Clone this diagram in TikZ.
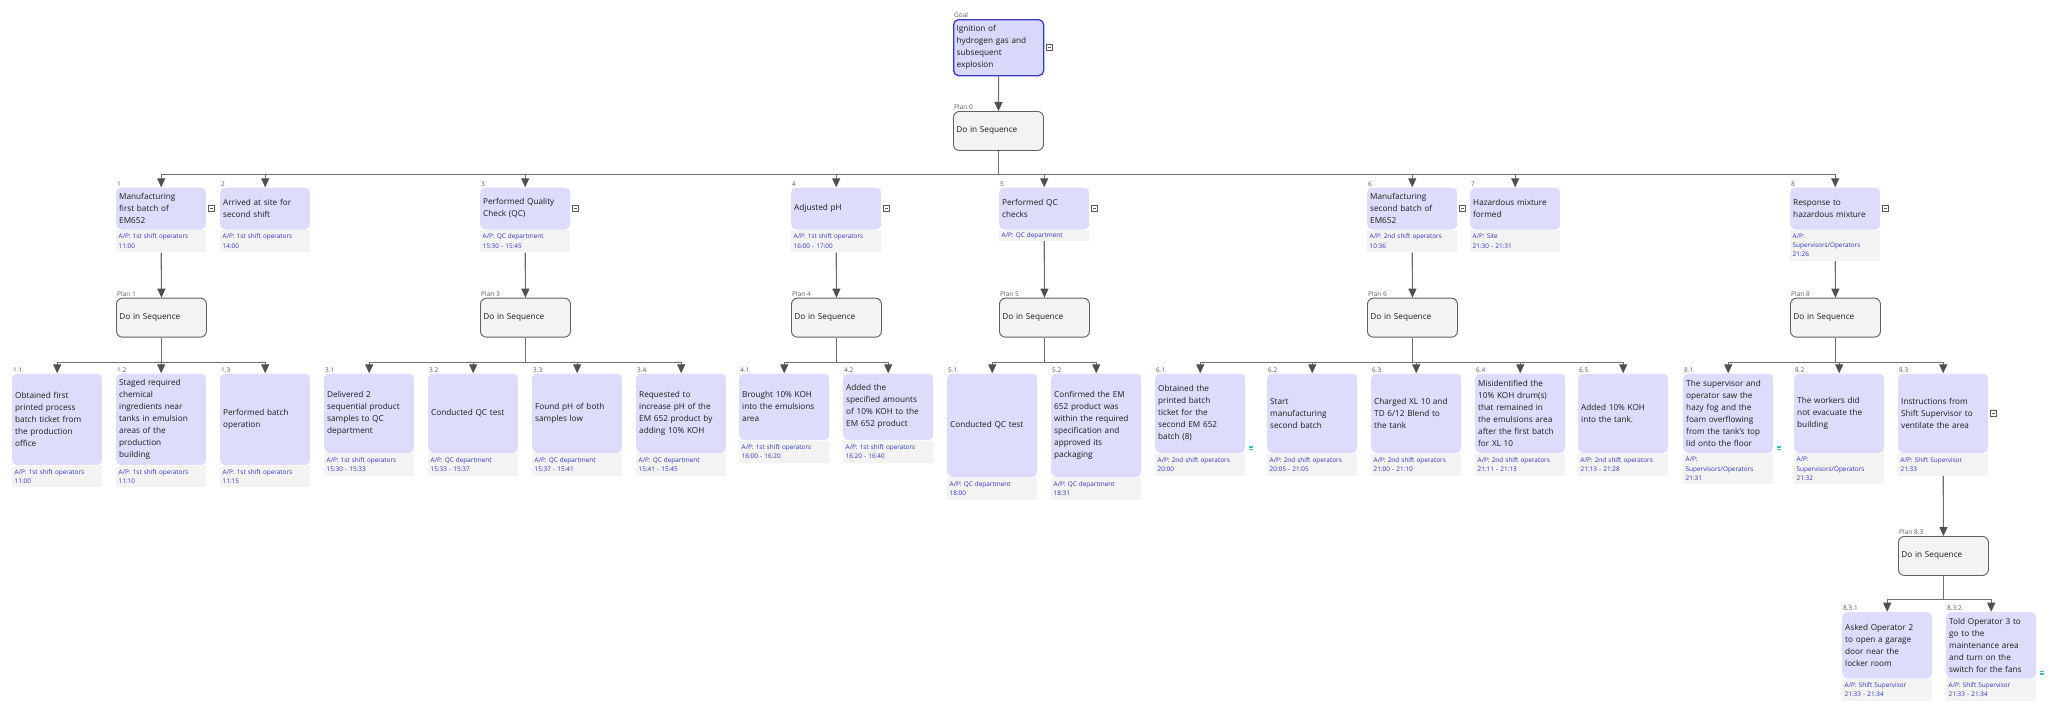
\documentclass[tikz,border=0pt]{standalone}
\usepackage{fontspec}
\setmainfont{Open Sans}
\usepackage{tikz}
\usetikzlibrary{arrows.meta,positioning,calc}

\definecolor{taskfill}{RGB}{221,221,251}
\definecolor{goalfill}{RGB}{216,216,250}
\definecolor{goalline}{RGB}{58,58,200}
\definecolor{infofill}{RGB}{243,243,243}
\definecolor{infotext}{RGB}{50,50,205}
\definecolor{planfill}{RGB}{243,243,243}
\definecolor{planline}{RGB}{96,96,96}
\definecolor{linkgray}{RGB}{112,112,112}
\definecolor{tipgray}{RGB}{80,80,80}
\definecolor{numgray}{RGB}{90,90,90}
\definecolor{darktext}{RGB}{28,28,28}
\definecolor{memoteal}{RGB}{60,185,195}

\newcommand{\taskfont}{\fontsize{8.2}{12}\selectfont}
\newcommand{\infofont}{\fontsize{6.4}{9.3}\selectfont}
\newcommand{\numfont}{\fontsize{6.5}{8}\selectfont}

\tikzset{
  task/.style={rectangle,rounded corners=5pt,fill=taskfill,text=darktext,font=\taskfont,
    text width=84pt,inner xsep=3pt,inner ysep=0pt,align=left,anchor=north west},
  goal/.style={task,draw=goalline,line width=1.3pt,fill=goalfill},
  info/.style={rectangle,fill=infofill,text=infotext,font=\infofont,text width=85pt,
    inner xsep=2.5pt,inner ysep=0pt,align=left,anchor=north west,minimum height=22.4pt},
  plan/.style={rectangle,rounded corners=6pt,draw=planline,line width=0.9pt,fill=planfill,
    text=darktext,font=\taskfont,text width=84pt,inner xsep=3pt,minimum height=39pt,
    align=left,anchor=north west},
  num/.style={font=\numfont,text=numgray,anchor=south west,inner sep=1pt},
  link/.style={draw=linkgray,line width=1.1pt,-{Triangle[length=9pt,width=8pt,color=tipgray]}},
  fold/.style={rectangle,draw=numgray,line width=0.4pt,fill=white,minimum size=6pt,inner sep=0pt,
    path picture={\draw[numgray,line width=0.5pt]
      ([xshift=1.4pt]path picture bounding box.west) -- ([xshift=-1.4pt]path picture bounding box.east);}},
  memo/.style={rectangle,minimum width=5pt,minimum height=6pt,inner sep=0pt,
    path picture={\foreach \k in {1,2,3}
      \draw[memoteal,line width=0.8pt] ([yshift=-\k*1.5pt]path picture bounding box.north west) -- ++(4pt,0pt);}},
}

% task box with number above and A/P strip below
\newcommand{\tasknode}[8]{%
  \node[task,minimum height=#4pt] (t#1) at (#2,#3) {#6};
  \node[num] (n#1) at (t#1.north west) {#5};
  \node[info,minimum height=#8pt] (i#1) at (t#1.south west) {#7};
}
% plan box with its label
\newcommand{\plannode}[4]{%
  \node[plan] (p#1) at (#2,#3) {Do in Sequence};
  \node[num] (q#1) at (p#1.north west) {Plan #4};
}

\begin{document}
\begin{tikzpicture}[x=1pt,y=-1pt]
  \useasboundingbox (0,0) rectangle (2048,716);

  % goal and plan 0
  \node[goal,minimum height=56pt] (goal) at (953,19) {Ignition of\\hydrogen gas and\\subsequent\\explosion};
  \node[num] (ngoal) at (goal.north west) {Goal};
  \node[fold] (fgoal) at ([xshift=5pt]goal.east) {};
  \plannode{0}{953}{111}{0}
  \draw[link] (goal.south) -- (p0.north);

  % first level
  \tasknode{1}{116}{187.3}{42}{1}{Manufacturing\\first batch of\\EM652}{A/P: 1st shift operators\\11:00}{22.4}
  \tasknode{2}{220}{187.3}{42}{2}{Arrived at site for\\second shift}{A/P: 1st shift operators\\14:00}{22.4}
  \tasknode{3}{480}{187.3}{42}{3}{Performed Quality\\Check (QC)}{A/P: QC department\\15:30 - 15:45}{22.4}
  \tasknode{4}{791}{187.3}{42}{4}{Adjusted pH}{A/P: 1st shift operators\\16:00 - 17:00}{22.4}
  \tasknode{5}{999}{187.3}{42}{5}{Performed QC\\checks}{A/P: QC department}{11}
  \tasknode{6}{1367}{187.3}{42}{6}{Manufacturing\\second batch of\\EM652}{A/P: 2nd shift operators\\10:36}{22.4}
  \tasknode{7}{1470}{187.3}{42}{7}{Hazardous mixture\\formed}{A/P: Site\\21:30 - 21:31}{22.4}
  \tasknode{8}{1790}{187.3}{42}{8}{Response to\\hazardous mixture}{A/P:\\Supervisors/Operators\\21:26}{31}
  \coordinate (b0) at ([yshift=-23.3pt]p0.south);
  \foreach \c in {1,...,8}
    \draw[link] (p0.south) -- (b0) -| (t\c.north);
  \foreach \c in {1,3,4,5,6,8}
    \node[fold] (f\c) at ([xshift=5pt]t\c.east) {};

  % plans of first level
  \plannode{1}{116}{297.7}{1}
  \plannode{3}{480}{297.7}{3}
  \plannode{4}{791}{297.7}{4}
  \plannode{5}{999}{297.7}{5}
  \plannode{6}{1367}{297.7}{6}
  \plannode{8}{1790}{297.7}{8}
  \foreach \c in {1,3,4,5,6,8}{
    \draw[link] (i\c.south) -- (p\c.north);
    \coordinate (b\c) at ([yshift=-25.3pt]p\c.south);
  }

  % second level
  \tasknode{11}{12}{373.3}{91.7}{1.1}{Obtained first\\printed process\\batch ticket from\\the production\\office}{A/P: 1st shift operators\\11:00}{21.7}
  \tasknode{12}{116}{373.3}{91.7}{1.2}{Staged required\\chemical\\ingredients near\\tanks in emulsion\\areas of the\\production\\building}{A/P: 1st shift operators\\11:10}{21.7}
  \tasknode{13}{220}{373.3}{91.7}{1.3}{Performed batch\\operation}{A/P: 1st shift operators\\11:15}{21.7}
  \tasknode{31}{324}{373.3}{79.4}{3.1}{Delivered 2\\sequential product\\samples to QC\\department}{A/P: 1st shift operators\\15:30 - 15:33}{22.4}
  \tasknode{32}{428}{373.3}{79.4}{3.2}{Conducted QC test}{A/P: QC department\\15:33 - 15:37}{22.4}
  \tasknode{33}{532}{373.3}{79.4}{3.3}{Found pH of both\\samples low}{A/P: QC department\\15:37 - 15:41}{22.4}
  \tasknode{34}{636}{373.3}{79.4}{3.4}{Requested to\\increase pH of the\\EM 652 product by\\adding 10\% KOH}{A/P: QC department\\15:41 - 15:45}{22.4}
  \tasknode{41}{739}{373.3}{66.7}{4.1}{Brought 10\% KOH\\into the emulsions\\area}{A/P: 1st shift operators\\16:00 - 16:20}{22.4}
  \tasknode{42}{843}{373.3}{66.7}{4.2}{Added the\\specified amounts\\of 10\% KOH to the\\EM 652 product}{A/P: 1st shift operators\\16:20 - 16:40}{22.4}
  \tasknode{51}{947}{373.3}{103.4}{5.1}{Conducted QC test}{A/P: QC department\\18:00}{22.4}
  \tasknode{52}{1051}{373.3}{103.4}{5.2}{Confirmed the EM\\652 product was\\within the required\\specification and\\approved its\\packaging}{A/P: QC department\\18:31}{22.4}
  \tasknode{61}{1155}{373.3}{79.4}{6.1}{Obtained the\\printed batch\\ticket for the\\second EM 652\\batch (8)}{A/P: 2nd shift operators\\20:00}{22.4}
  \tasknode{62}{1267}{373.3}{79.4}{6.2}{Start\\manufacturing\\second batch}{A/P: 2nd shift operators\\20:05 - 21:05}{22.4}
  \tasknode{63}{1371}{373.3}{79.4}{6.3}{Charged XL 10 and\\TD 6/12 Blend to\\the tank}{A/P: 2nd shift operators\\21:00 - 21:10}{22.4}
  \tasknode{64}{1475}{373.3}{79.4}{6.4}{Misidentified the\\10\% KOH drum(s)\\that remained in\\the emulsions area\\after the first batch\\for XL 10}{A/P: 2nd shift operators\\21:11 - 21:13}{22.4}
  \tasknode{65}{1578}{373.3}{79.4}{6.5}{Added 10\% KOH\\into the tank.}{A/P: 2nd shift operators\\21:13 - 21:28}{22.4}
  \tasknode{81}{1683}{373.3}{79.4}{8.1}{The supervisor and\\operator saw the\\hazy fog and the\\foam overflowing\\from the tank's top\\lid onto the floor}{A/P:\\Supervisors/Operators\\21:31}{31}
  \tasknode{82}{1794}{373.3}{79.4}{8.2}{The workers did\\not evacuate the\\building}{A/P:\\Supervisors/Operators\\21:32}{31}
  \tasknode{83}{1898}{373.3}{79.4}{8.3}{Instructions from\\Shift Supervisor to\\ventilate the area}{A/P: Shift Supervisor\\21:33}{22.4}
  \foreach \c in {11,12,13} \draw[link] (p1.south) -- (b1) -| (t\c.north);
  \foreach \c in {31,32,33,34} \draw[link] (p3.south) -- (b3) -| (t\c.north);
  \foreach \c in {41,42} \draw[link] (p4.south) -- (b4) -| (t\c.north);
  \foreach \c in {51,52} \draw[link] (p5.south) -- (b5) -| (t\c.north);
  \foreach \c in {61,62,63,64,65} \draw[link] (p6.south) -- (b6) -| (t\c.north);
  \foreach \c in {81,82,83} \draw[link] (p8.south) -- (b8) -| (t\c.north);
  \node[fold] (f83) at ([xshift=5pt]t83.east) {};
  \node[memo] (m61) at ([xshift=6pt,yshift=5.5pt]t61.south east) {};
  \node[memo] (m81) at ([xshift=6pt,yshift=5.5pt]t81.south east) {};

  % third level
  \plannode{83}{1898}{536}{8.3}
  \draw[link] (i83.south) -- (p83.north);
  \coordinate (b83) at ([yshift=-23.3pt]p83.south);
  \tasknode{831}{1842}{611.7}{66.6}{8.3.1}{Asked Operator 2\\to open a garage\\door near the\\locker room}{A/P: Shift Supervisor\\21:33 - 21:34}{22}
  \tasknode{832}{1946}{611.7}{66.6}{8.3.2}{Told Operator 3 to\\go to the\\maintenance area\\and turn on the\\switch for the fans}{A/P: Shift Supervisor\\21:33 - 21:34}{22}
  \foreach \c in {831,832} \draw[link] (p83.south) -- (b83) -| (t\c.north);
  \node[memo] (m832) at ([xshift=6pt,yshift=5.5pt]t832.south east) {};
\end{tikzpicture}
\end{document}
